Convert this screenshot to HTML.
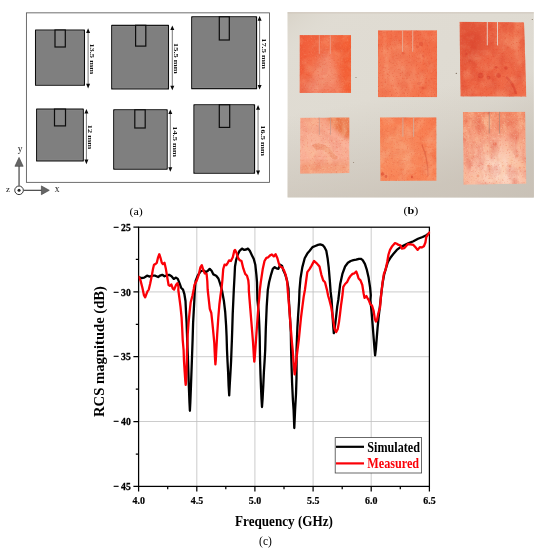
<!DOCTYPE html>
<html><head><meta charset="utf-8"><title>Figure</title>
<style>
html,body{margin:0;padding:0;background:#fff}
svg{display:block}
text{font-family:"Liberation Serif","DejaVu Serif",serif}
</style></head><body>
<svg width="542" height="550" viewBox="0 0 542 550">
<defs>
<linearGradient id="bg" x1="0" y1="0" x2="1" y2="1"><stop offset="0" stop-color="#d5cfc3" stop-opacity="0.7"/><stop offset="0.12" stop-color="#dedad1" stop-opacity="0.1"/><stop offset="0.65" stop-color="#d8d4cb" stop-opacity="0.25"/><stop offset="1" stop-color="#c4beb4" stop-opacity="1"/></linearGradient>
<linearGradient id="bg2" x1="0.1" y1="0" x2="0.35" y2="1"><stop offset="0.5" stop-color="#c9c1b6" stop-opacity="0"/><stop offset="1" stop-color="#cac2b7" stop-opacity="0.8"/></linearGradient>
<filter id="bl1" x="-20%" y="-20%" width="140%" height="140%"><feGaussianBlur stdDeviation="0.7"/></filter>
<filter id="bl2" x="-30%" y="-30%" width="160%" height="160%"><feGaussianBlur stdDeviation="2"/></filter>
<filter id="bl3" x="-30%" y="-30%" width="160%" height="160%"><feGaussianBlur stdDeviation="3.5"/></filter>
<filter color-interpolation-filters="sRGB" id="tx1" x="0" y="0" width="1" height="1"><feTurbulence type="fractalNoise" baseFrequency="0.07 0.09" numOctaves="4" seed="4"/><feColorMatrix type="matrix" values="0 0 0 0 0.86  0 0 0 0 0.28  0 0 0 0 0.18  2.2 0 0 0 -0.95"/></filter>
<filter color-interpolation-filters="sRGB" id="tx2" x="0" y="0" width="1" height="1"><feTurbulence type="fractalNoise" baseFrequency="0.1" numOctaves="5" seed="11"/><feColorMatrix type="matrix" values="0 0 0 0 0.86  0 0 0 0 0.28  0 0 0 0 0.18  2.2 0 0 0 -0.95"/></filter>
<filter color-interpolation-filters="sRGB" id="tx3" x="0" y="0" width="1" height="1"><feTurbulence type="fractalNoise" baseFrequency="0.09 0.06" numOctaves="5" seed="23"/><feColorMatrix type="matrix" values="0 0 0 0 0.84  0 0 0 0 0.22  0 0 0 0 0.15  2.4 0 0 0 -1.0"/></filter>
<filter color-interpolation-filters="sRGB" id="sp1" x="0" y="0" width="1" height="1"><feTurbulence type="fractalNoise" baseFrequency="0.55" numOctaves="2" seed="5"/><feColorMatrix type="matrix" values="0 0 0 0 0.88  0 0 0 0 0.30  0 0 0 0 0.18  5 0 0 0 -3.0"/></filter>
<filter color-interpolation-filters="sRGB" id="sp2" x="0" y="0" width="1" height="1"><feTurbulence type="fractalNoise" baseFrequency="0.7" numOctaves="2" seed="17"/><feColorMatrix type="matrix" values="0 0 0 0 0.99  0 0 0 0 0.86  0 0 0 0 0.76  0 3 0 0 -1.7"/></filter>
<filter color-interpolation-filters="sRGB" id="tl1" x="0" y="0" width="1" height="1"><feTurbulence type="fractalNoise" baseFrequency="0.08" numOctaves="5" seed="7"/><feColorMatrix type="matrix" values="0 0 0 0 0.98  0 0 0 0 0.75  0 0 0 0 0.6  0 2.2 0 0 -0.95"/></filter>
<filter color-interpolation-filters="sRGB" id="tl2" x="0" y="0" width="1" height="1"><feTurbulence type="fractalNoise" baseFrequency="0.12 0.07" numOctaves="5" seed="31"/><feColorMatrix type="matrix" values="0 0 0 0 0.98  0 0 0 0 0.75  0 0 0 0 0.6  0 2.2 0 0 -0.95"/></filter>
<linearGradient id="p1" x1="0" y1="0" x2="1" y2="0"><stop offset="0" stop-color="#f15d3a"/><stop offset="0.5" stop-color="#f46b45"/><stop offset="1" stop-color="#f45f34"/></linearGradient>
<radialGradient id="p1b" cx="0.5" cy="0.6" r="0.4"><stop offset="0" stop-color="#f39672" stop-opacity="0.4"/><stop offset="1" stop-color="#f39672" stop-opacity="0"/></radialGradient>
<linearGradient id="p2" x1="1" y1="0" x2="0" y2="1"><stop offset="0" stop-color="#f26b46"/><stop offset="1" stop-color="#f57850"/></linearGradient>
<radialGradient id="p2b" cx="0.3" cy="0.65" r="0.5"><stop offset="0" stop-color="#f49674" stop-opacity="0.55"/><stop offset="1" stop-color="#f49674" stop-opacity="0"/></radialGradient>
<linearGradient id="p3" x1="0" y1="0" x2="1" y2="1"><stop offset="0" stop-color="#ea5d3e"/><stop offset="1" stop-color="#f06d4a"/></linearGradient>
<radialGradient id="p3b" cx="0.8" cy="0.25" r="0.45"><stop offset="0" stop-color="#f0805a" stop-opacity="0.5"/><stop offset="1" stop-color="#f0805a" stop-opacity="0"/></radialGradient>
<linearGradient id="p4" x1="0" y1="0" x2="0" y2="1"><stop offset="0" stop-color="#f8a488"/><stop offset="0.5" stop-color="#fab19a"/><stop offset="1" stop-color="#f9ac90"/></linearGradient>
<radialGradient id="p4b" cx="0.3" cy="0.35" r="0.4"><stop offset="0" stop-color="#f8b89a" stop-opacity="0.5"/><stop offset="1" stop-color="#f8b89a" stop-opacity="0"/></radialGradient>
<linearGradient id="p5" x1="1" y1="0" x2="0" y2="1"><stop offset="0" stop-color="#f87c50"/><stop offset="1" stop-color="#f9885a"/></linearGradient>
<radialGradient id="p5b" cx="0.35" cy="0.5" r="0.45"><stop offset="0" stop-color="#f6a47a" stop-opacity="0.55"/><stop offset="1" stop-color="#f6a47a" stop-opacity="0"/></radialGradient>
<linearGradient id="p6" x1="0" y1="0" x2="0" y2="1"><stop offset="0" stop-color="#f48c68"/><stop offset="0.4" stop-color="#f7a486"/><stop offset="1" stop-color="#f9b89e"/></linearGradient>
<radialGradient id="p6b" cx="0.58" cy="0.8" r="0.55"><stop offset="0" stop-color="#fde4d4" stop-opacity="0.95"/><stop offset="1" stop-color="#fcdcc8" stop-opacity="0"/></radialGradient>
</defs>
<rect width="542" height="550" fill="#fff"/>
<g id="panel-a">
<rect x="26.4" y="12.85" width="243.15" height="169.5" fill="#fff" stroke="#555" stroke-width="0.85"/>
<rect x="35.6" y="30.0" width="48.8" height="55.2" fill="#7f7f7f" stroke="#0c0c0c" stroke-width="1.25" stroke-linejoin="round"/>
<rect x="36.5" y="30.9" width="47.0" height="53.4" fill="none" stroke="#8e8e8e" stroke-width="0.6"/>
<rect x="55.0" y="30.0" width="10.3" height="17.0" fill="#868686" stroke="#0c0c0c" stroke-width="1.2"/>
<line x1="88.1" y1="31.3" x2="88.1" y2="85.4" stroke="#555" stroke-width="0.8"/>
<path d="M88.1,28.3 l2,4.6 h-4z M88.1,88.4 l2,-4.6 h-4z" fill="#0a0a0a"/>
<text transform="translate(90.1,58.75) scale(0.8,1) rotate(90)" text-anchor="middle" font-size="8.4" font-weight="bold" fill="#111">13.5 mm</text>
<rect x="111.8" y="25.3" width="56.6" height="63.6" fill="#7f7f7f" stroke="#0c0c0c" stroke-width="1.25" stroke-linejoin="round"/>
<rect x="112.7" y="26.2" width="54.8" height="61.8" fill="none" stroke="#8e8e8e" stroke-width="0.6"/>
<rect x="135.6" y="25.3" width="10.2" height="20.8" fill="#868686" stroke="#0c0c0c" stroke-width="1.2"/>
<line x1="172.3" y1="28.4" x2="172.3" y2="87.3" stroke="#555" stroke-width="0.8"/>
<path d="M172.3,25.4 l2,4.6 h-4z M172.3,90.3 l2,-4.6 h-4z" fill="#0a0a0a"/>
<text transform="translate(174.3,58.4) scale(0.8,1) rotate(90)" text-anchor="middle" font-size="8.4" font-weight="bold" fill="#111">15.5 mm</text>
<rect x="191.8" y="16.8" width="64.7" height="71.9" fill="#7f7f7f" stroke="#0c0c0c" stroke-width="1.25" stroke-linejoin="round"/>
<rect x="192.70000000000002" y="17.7" width="62.9" height="70.1" fill="none" stroke="#8e8e8e" stroke-width="0.6"/>
<rect x="219.3" y="16.8" width="10.0" height="23.2" fill="#868686" stroke="#0c0c0c" stroke-width="1.2"/>
<line x1="259.6" y1="19.1" x2="259.6" y2="86.6" stroke="#555" stroke-width="0.8"/>
<path d="M259.6,16.1 l2,4.6 h-4z M259.6,89.6 l2,-4.6 h-4z" fill="#0a0a0a"/>
<text transform="translate(262.1,53.6) scale(0.8,1) rotate(90)" text-anchor="middle" font-size="8.4" font-weight="bold" fill="#111">17.5 mm</text>
<rect x="36.7" y="109.1" width="46.5" height="51.8" fill="#7f7f7f" stroke="#0c0c0c" stroke-width="1.25" stroke-linejoin="round"/>
<rect x="37.6" y="110.0" width="44.7" height="50.0" fill="none" stroke="#8e8e8e" stroke-width="0.6"/>
<rect x="54.5" y="109.1" width="11.0" height="16.8" fill="#868686" stroke="#0c0c0c" stroke-width="1.2"/>
<line x1="86.4" y1="111.9" x2="86.4" y2="161.2" stroke="#555" stroke-width="0.8"/>
<path d="M86.4,108.9 l2,4.6 h-4z M86.4,164.2 l2,-4.6 h-4z" fill="#0a0a0a"/>
<text transform="translate(88.4,137.0) scale(0.8,1) rotate(90)" text-anchor="middle" font-size="8.4" font-weight="bold" fill="#111">12 mm</text>
<rect x="113.8" y="109.8" width="53.3" height="59.3" fill="#7f7f7f" stroke="#0c0c0c" stroke-width="1.25" stroke-linejoin="round"/>
<rect x="114.7" y="110.7" width="51.5" height="57.5" fill="none" stroke="#8e8e8e" stroke-width="0.6"/>
<rect x="134.8" y="109.8" width="10.4" height="18.2" fill="#868686" stroke="#0c0c0c" stroke-width="1.2"/>
<line x1="170.3" y1="112.5" x2="170.3" y2="168.75" stroke="#555" stroke-width="0.8"/>
<path d="M170.3,109.5 l2,4.6 h-4z M170.3,171.75 l2,-4.6 h-4z" fill="#0a0a0a"/>
<text transform="translate(173.0,141.7) scale(0.8,1) rotate(90)" text-anchor="middle" font-size="8.4" font-weight="bold" fill="#111">14.5 mm</text>
<rect x="194.0" y="104.8" width="60.5" height="68.4" fill="#7f7f7f" stroke="#0c0c0c" stroke-width="1.25" stroke-linejoin="round"/>
<rect x="194.9" y="105.7" width="58.7" height="66.6" fill="none" stroke="#8e8e8e" stroke-width="0.6"/>
<rect x="219.3" y="104.8" width="10.4" height="22.6" fill="#868686" stroke="#0c0c0c" stroke-width="1.2"/>
<line x1="258.05" y1="108.1" x2="258.05" y2="172.2" stroke="#555" stroke-width="0.8"/>
<path d="M258.05,105.1 l2,4.6 h-4z M258.05,175.2 l2,-4.6 h-4z" fill="#0a0a0a"/>
<text transform="translate(261.3,140.7) scale(0.8,1) rotate(90)" text-anchor="middle" font-size="8.4" font-weight="bold" fill="#111">16.5 mm</text>
<circle cx="19.05" cy="190.3" r="4.3" fill="#fff" stroke="#222" stroke-width="0.9"/><circle cx="19.05" cy="190.3" r="1.5" fill="#222"/>
<line x1="19.05" y1="185.8" x2="19.05" y2="166" stroke="#333" stroke-width="1.1"/><path d="M19.05,157.4 l4.1,8.9 h-8.2z" fill="#666" stroke="#3a3a3a" stroke-width="0.6" stroke-linejoin="miter"/>
<line x1="23.6" y1="190.3" x2="41.6" y2="190.3" stroke="#333" stroke-width="1.1"/><path d="M49.3,190.3 l-7.9,-4.4 v8.8z" fill="#666" stroke="#3a3a3a" stroke-width="0.6"/>
<text x="20.1" y="151.5" text-anchor="middle" font-size="9.5" fill="#222">y</text>
<text x="57" y="192.4" text-anchor="middle" font-size="9.5" fill="#222">x</text>
<text x="8.1" y="192.4" text-anchor="middle" font-size="9" fill="#222">z</text>
</g>
<g id="panel-b">
<rect x="287.6" y="12.3" width="246.2" height="185.1" fill="#e0dcd3"/>
<rect x="287.6" y="12.3" width="246.2" height="185.1" fill="url(#bg)"/>
<rect x="287.6" y="12.3" width="246.2" height="185.1" fill="url(#bg2)"/>
<rect x="287.6" y="12.3" width="246.2" height="1" fill="#cbbfb4" opacity="0.8"/>
<clipPath id="k0"><path d="M299.5,35.1 L351.1,35.1 L351.1,92.9 L299.5,92.9Z"/></clipPath>
<g clip-path="url(#k0)">
<rect x="299.5" y="35.1" width="51.6" height="57.8" fill="url(#p1)"/>
<rect x="299.5" y="35.1" width="51.6" height="57.8" fill="url(#p1b)"/>
<path d="M322,52 L331,52 L343,94 L306,94 Z" fill="#f5b09c" opacity="0.4" filter="url(#bl3)"/><rect x="299" y="80" width="20" height="14" fill="#f3a890" opacity="0.35" filter="url(#bl3)"/>
<rect x="299.5" y="35.1" width="51.6" height="57.8" filter="url(#tx1)" opacity="0.25"/>
<rect x="299.5" y="35.1" width="51.6" height="57.8" filter="url(#tl1)" opacity="0.3"/>
<rect x="299.5" y="35.1" width="51.6" height="57.8" filter="url(#sp1)" opacity="0.25"/>
<rect x="299.5" y="35.1" width="51.6" height="57.8" filter="url(#sp2)" opacity="0.15"/>
</g>
<path d="M319.3,35.3 V53.8 M330.3,35.3 V53.8" stroke="#eba592" stroke-width="0.8" fill="none"/>
<clipPath id="k1"><path d="M378.0,30.2 L437.1,30.2 L437.1,97.3 L378.0,97.3Z"/></clipPath>
<g clip-path="url(#k1)">
<rect x="378.0" y="30.2" width="59.1" height="67.1" fill="url(#p2)"/>
<rect x="378.0" y="30.2" width="59.1" height="67.1" fill="url(#p2b)"/>
<g fill="#d9442f" filter="url(#bl1)" opacity="0.4"><circle cx="421" cy="44" r="2.2"/><circle cx="417.5" cy="47" r="1.4"/><circle cx="423" cy="56" r="1.2"/><circle cx="419" cy="83.5" r="1.8"/><circle cx="423" cy="88" r="1.6"/><circle cx="403" cy="53" r="1"/></g>
<rect x="378.0" y="30.2" width="59.1" height="67.1" filter="url(#tx2)" opacity="0.2"/>
<rect x="378.0" y="30.2" width="59.1" height="67.1" filter="url(#tl2)" opacity="0.3"/>
<rect x="378.0" y="30.2" width="59.1" height="67.1" filter="url(#sp1)" opacity="0.35"/>
<rect x="378.0" y="30.2" width="59.1" height="67.1" filter="url(#sp2)" opacity="0.1"/>
</g>
<path d="M402.6,30.4 V51.8 M412.7,30.4 V51.8" stroke="#e6b8a4" stroke-width="0.8" fill="none"/>
<clipPath id="k2"><path d="M459.5,21.8 L524.0,22.4 L526.4,96.7 L460.6,96.6Z"/></clipPath>
<g clip-path="url(#k2)">
<rect x="459.5" y="21.8" width="66.9" height="74.9" fill="url(#p3)"/>
<rect x="459.5" y="21.8" width="66.9" height="74.9" fill="url(#p3b)"/>
<g fill="#d53a2a" filter="url(#bl1)" opacity="0.55"><circle cx="480.6" cy="75.5" r="2.8"/><circle cx="488.5" cy="77.7" r="2"/><circle cx="498.5" cy="75.5" r="2.4"/><circle cx="496" cy="67.3" r="1.4"/><circle cx="506" cy="68" r="1.8"/><circle cx="470" cy="60" r="1.6"/><circle cx="466" cy="54" r="1.2"/><path d="M506,77 Q513,82 516,94" stroke="#d53a2a" stroke-width="2.2" fill="none"/></g><path d="M458,20 L484,20 L488,50 L470,66 L458,60 Z" fill="#d84a30" opacity="0.45" filter="url(#bl3)"/>
<rect x="459.5" y="21.8" width="66.9" height="74.9" filter="url(#tx3)" opacity="0.35"/>
<rect x="459.5" y="21.8" width="66.9" height="74.9" filter="url(#tl1)" opacity="0.3"/>
<rect x="459.5" y="21.8" width="66.9" height="74.9" filter="url(#sp1)" opacity="0.4"/>
<rect x="459.5" y="21.8" width="66.9" height="74.9" filter="url(#sp2)" opacity="0.1"/>
</g>
<path d="M487.3,22.0 V45.4 M497.5,22.0 V45.4" stroke="#e8cabd" stroke-width="1.0" fill="none"/>
<clipPath id="k3"><path d="M300.2,117.75 L349.3,117.5 L349.5,173.1 L300.1,173.7Z"/></clipPath>
<g clip-path="url(#k3)">
<rect x="300.1" y="117.5" width="49.4" height="56.2" fill="url(#p4)"/>
<rect x="300.1" y="117.5" width="49.4" height="56.2" fill="url(#p4b)"/>
<path d="M326,116 L351,116 L351,140 Q336,134 326,116Z" fill="#e8703f" opacity="0.9" filter="url(#bl2)"/><path d="M312,145 Q320,141 328,147 Q333,153 338,158 Q334,162 330,156 Q324,148 316,150 Z" fill="#ee8f6c" opacity="0.7" filter="url(#bl1)"/><rect x="300" y="163" width="49" height="11" fill="#ef8e5e" opacity="0.5" filter="url(#bl3)"/>
<rect x="300.1" y="117.5" width="49.4" height="56.2" filter="url(#tx1)" opacity="0.2"/>
<rect x="300.1" y="117.5" width="49.4" height="56.2" filter="url(#tl2)" opacity="0.6"/>
<rect x="300.1" y="117.5" width="49.4" height="56.2" filter="url(#sp1)" opacity="0.2"/>
<rect x="300.1" y="117.5" width="49.4" height="56.2" filter="url(#sp2)" opacity="0.3"/>
</g>
<path d="M319.4,117.7 V134.8 M330.5,117.7 V134.8" stroke="#c9988a" stroke-width="0.8" fill="none"/>
<clipPath id="k4"><path d="M380.0,117.3 L436.5,117.3 L436.6,180.7 L380.4,180.9Z"/></clipPath>
<g clip-path="url(#k4)">
<rect x="380.0" y="117.3" width="56.6" height="63.6" fill="url(#p5)"/>
<rect x="380.0" y="117.3" width="56.6" height="63.6" fill="url(#p5b)"/>
<g fill="#d8452e" filter="url(#bl1)" opacity="0.6"><circle cx="382.5" cy="174" r="1.8"/><circle cx="386" cy="176.5" r="1.4"/><circle cx="412" cy="177" r="1.2"/><path d="M422,145 Q428,158 428,176" stroke="#d8553a" stroke-width="1.3" fill="none"/></g>
<rect x="380.0" y="117.3" width="56.6" height="63.6" filter="url(#tx2)" opacity="0.2"/>
<rect x="380.0" y="117.3" width="56.6" height="63.6" filter="url(#tl1)" opacity="0.45"/>
<rect x="380.0" y="117.3" width="56.6" height="63.6" filter="url(#sp1)" opacity="0.25"/>
<rect x="380.0" y="117.3" width="56.6" height="63.6" filter="url(#sp2)" opacity="0.15"/>
</g>
<path d="M402.9,117.5 V136.8 M413.6,117.5 V136.8" stroke="#d3ab9b" stroke-width="0.9" fill="none"/>
<clipPath id="k5"><path d="M462.9,112.0 L525.1,111.7 L526.3,183.5 L463.7,184.8Z"/></clipPath>
<g clip-path="url(#k5)">
<rect x="462.9" y="111.7" width="63.4" height="73.1" fill="url(#p6)"/>
<rect x="462.9" y="111.7" width="63.4" height="73.1" fill="url(#p6b)"/>
<g fill="#ea6a48" filter="url(#bl1)" opacity="0.45"><circle cx="495" cy="144" r="1.8"/><circle cx="466" cy="121" r="1.5"/><circle cx="521" cy="120" r="2.2"/><circle cx="517" cy="156" r="1.6"/><circle cx="510" cy="166" r="1.5"/><circle cx="489" cy="166" r="1.6"/><circle cx="520" cy="168" r="1.4"/><circle cx="478" cy="176" r="1.4"/></g>
<rect x="462.9" y="111.7" width="63.4" height="73.1" filter="url(#tx3)" opacity="0.38"/>
<rect x="462.9" y="111.7" width="63.4" height="73.1" filter="url(#tl2)" opacity="0.7"/>
<rect x="462.9" y="111.7" width="63.4" height="73.1" filter="url(#sp1)" opacity="0.22"/>
<rect x="462.9" y="111.7" width="63.4" height="73.1" filter="url(#sp2)" opacity="0.4"/>
</g>
<path d="M489.3,111.9 V133.5 M499.5,111.9 V133.5" stroke="#b08878" stroke-width="0.75" fill="none"/>
<circle cx="356" cy="77.5" r="0.55" fill="#8a7a6a"/><circle cx="456.3" cy="73.4" r="0.6" fill="#7a6a5a"/><circle cx="353.6" cy="162.5" r="0.5" fill="#8a7a6a"/><circle cx="532.3" cy="19.5" r="0.6" fill="#8a7a6a"/>
</g>
<text x="129.5" y="214.5" textLength="13.3" lengthAdjust="spacingAndGlyphs" font-size="11.3">(a)</text>
<text x="403.4" y="214.3" textLength="14.8" lengthAdjust="spacingAndGlyphs" font-size="11.3">(<tspan font-weight="bold">b</tspan>)</text>
<g id="chart">
<line x1="196.8" y1="227" x2="196.8" y2="486.4" stroke="#bfbfbf" stroke-width="0.8"/>
<line x1="254.9" y1="227" x2="254.9" y2="486.4" stroke="#bfbfbf" stroke-width="0.8"/>
<line x1="313.1" y1="227" x2="313.1" y2="486.4" stroke="#bfbfbf" stroke-width="0.8"/>
<line x1="371.2" y1="227" x2="371.2" y2="486.4" stroke="#bfbfbf" stroke-width="0.8"/>
<line x1="138.6" y1="291.9" x2="429.4" y2="291.9" stroke="#bfbfbf" stroke-width="0.8"/>
<line x1="138.6" y1="356.7" x2="429.4" y2="356.7" stroke="#bfbfbf" stroke-width="0.8"/>
<line x1="138.6" y1="421.5" x2="429.4" y2="421.5" stroke="#bfbfbf" stroke-width="0.8"/>
<rect x="138.6" y="227.2" width="290.8" height="259.2" fill="none" stroke="#000" stroke-width="1.25"/>
<clipPath id="cc"><rect x="138.6" y="226" width="291.49999999999994" height="260.4"/></clipPath>
<g clip-path="url(#cc)" fill="none" stroke-linejoin="round" stroke-linecap="round" stroke-width="2.3"><path d="M138.7,277.0 L141.5,278.1 L144.2,277.6 L147.0,275.7 L149.8,276.7 L152.5,275.7 L155.3,275.7 L158.1,277.0 L159.9,275.7 L162.3,274.8 L164.5,276.3 L167.3,275.2 L169.1,274.8 L171.5,276.3 L173.8,278.9 L176.0,277.6 L177.8,278.9 L179.7,283.7 L181.1,287.7 L183.0,289.6 L184.4,294.2 L185.5,301.0 L186.0,312.0 L186.6,323.0 L187.2,340.0 L188.0,360.0 L188.8,385.0 L189.5,403.0 L189.9,410.8 L190.3,403.0 L191.0,385.0 L191.9,360.0 L192.6,340.0 L193.1,323.0 L193.7,312.0 L194.3,301.0 L194.8,290.0 L195.6,281.0 L197.7,275.7 L200.5,271.5 L203.3,270.2 L206.0,272.1 L207.9,270.8 L209.7,268.9 L211.6,270.8 L213.4,274.4 L216.2,275.7 L218.4,278.5 L220.2,284.0 L221.9,290.0 L223.9,301.0 L225.2,312.0 L226.1,325.4 L226.6,336.5 L227.0,350.0 L227.5,361.0 L228.1,372.0 L228.6,385.4 L229.2,395.4 L229.7,385.4 L230.5,372.0 L231.1,361.0 L231.5,350.0 L231.9,339.8 L232.3,327.6 L232.7,314.4 L233.3,301.0 L233.8,290.0 L234.6,275.0 L235.0,266.5 L236.1,260.1 L237.8,254.5 L239.6,250.8 L242.0,248.6 L244.2,249.9 L246.1,249.5 L247.9,248.6 L249.8,250.8 L252.0,255.4 L253.8,259.1 L255.3,264.7 L256.4,274.8 L257.0,282.2 L257.4,300.0 L258.7,312.0 L259.3,325.4 L259.7,336.5 L259.9,350.0 L260.1,361.0 L260.5,374.4 L261.0,387.6 L261.5,398.7 L262.0,407.0 L262.6,398.7 L263.3,385.4 L263.9,372.0 L264.6,361.0 L265.2,350.0 L265.5,339.8 L265.8,328.7 L266.7,306.6 L267.8,290.0 L269.1,282.2 L271.0,274.8 L272.8,268.9 L274.7,267.1 L276.5,268.4 L278.4,268.9 L280.2,264.7 L282.1,266.0 L283.3,270.2 L285.2,274.4 L287.0,280.4 L288.5,288.6 L288.8,298.9 L289.5,309.9 L290.2,321.0 L290.8,332.0 L291.1,350.0 L291.4,361.0 L292.1,383.0 L292.9,400.0 L293.6,410.0 L294.3,428.0 L295.1,410.0 L296.0,394.0 L296.5,378.0 L296.6,361.0 L296.5,350.0 L296.9,339.8 L297.4,327.6 L298.2,314.4 L299.1,301.0 L299.5,290.0 L300.5,278.5 L302.3,267.4 L304.7,258.2 L307.3,253.6 L309.7,250.8 L312.5,247.1 L315.3,246.0 L318.0,244.9 L320.2,244.4 L322.6,245.1 L324.5,247.3 L326.3,250.8 L327.6,258.2 L328.7,267.4 L329.8,280.4 L330.6,291.4 L331.6,300.0 L332.4,313.3 L333.1,324.4 L333.8,333.2 L334.9,326.6 L336.1,316.6 L337.2,306.6 L338.3,300.0 L340.2,284.0 L342.4,273.9 L345.1,266.5 L347.9,262.8 L350.7,261.0 L353.4,260.1 L356.2,259.7 L359.0,258.8 L360.8,258.8 L362.7,260.1 L364.9,263.8 L366.7,269.3 L368.6,277.6 L370.1,287.7 L370.8,295.1 L370.4,300.0 L371.5,311.1 L372.6,324.4 L373.7,338.7 L374.5,348.7 L375.1,355.4 L375.9,348.7 L376.7,338.7 L377.6,327.7 L378.7,316.6 L380.0,305.5 L381.1,295.1 L382.6,283.1 L384.1,274.8 L385.9,268.4 L387.6,262.8 L388.5,261.0 L390.4,257.8 L393.1,254.2 L396.8,249.9 L400.5,247.1 L405.1,244.9 L408.8,243.1 L413.4,241.2 L418.0,238.8 L422.6,237.0 L426.3,235.2 L429.1,233.3" stroke="#000"/><path d="M138.7,276.7 L140.5,280.4 L142.4,287.7 L143.9,295.1 L145.2,297.3 L146.4,294.2 L147.6,291.1 L148.8,289.6 L150.1,284.0 L151.6,276.7 L153.1,268.4 L154.0,264.7 L155.3,264.1 L156.8,262.8 L158.1,257.3 L159.3,254.2 L160.5,257.8 L161.8,262.8 L163.0,264.1 L164.5,262.8 L165.8,268.4 L167.3,277.6 L168.6,285.0 L170.1,285.9 L171.3,284.4 L172.8,288.6 L174.1,289.6 L176.0,285.0 L177.4,283.1 L178.5,286.8 L178.3,290.0 L179.2,296.6 L180.5,306.6 L181.6,317.7 L182.2,328.7 L182.7,339.8 L183.6,350.0 L184.0,361.0 L184.7,372.0 L185.3,381.0 L185.7,384.9 L186.1,381.0 L186.5,372.0 L186.8,361.0 L187.0,350.0 L187.3,345.4 L187.7,334.3 L188.5,323.2 L189.6,312.1 L190.7,302.2 L192.5,295.5 L193.8,289.0 L194.4,285.0 L196.8,280.4 L198.7,274.8 L200.5,267.1 L201.8,265.2 L203.3,270.2 L204.7,273.3 L206.6,273.9 L207.3,281.0 L207.7,290.0 L208.7,298.9 L209.8,308.8 L211.3,313.0 L212.4,323.2 L213.5,334.3 L214.3,343.1 L214.7,352.0 L215.1,360.0 L215.4,364.4 L215.8,360.0 L216.2,352.0 L216.6,345.0 L217.2,334.3 L218.3,317.7 L219.4,304.4 L220.5,295.5 L221.6,288.0 L222.4,280.0 L223.2,269.3 L224.5,264.7 L226.3,265.2 L227.8,262.8 L229.1,260.4 L230.9,261.0 L232.8,257.3 L234.3,250.8 L235.0,249.9 L236.5,252.7 L237.8,257.3 L239.6,260.1 L241.5,261.0 L243.3,268.4 L245.2,273.9 L247.0,275.7 L248.3,280.4 L248.8,285.9 L248.8,290.0 L249.5,298.9 L250.4,309.9 L251.3,321.0 L252.2,332.0 L253.0,342.0 L253.5,350.0 L253.9,357.0 L254.3,361.6 L254.8,357.0 L255.3,350.0 L256.0,339.8 L256.8,328.7 L257.6,317.7 L258.4,306.6 L259.3,296.6 L259.8,290.0 L260.8,282.2 L262.7,269.3 L264.5,261.0 L266.4,257.8 L268.2,257.3 L270.1,255.4 L271.9,254.5 L273.8,256.4 L275.6,254.2 L277.4,258.2 L278.9,263.8 L280.2,266.5 L282.1,267.4 L283.9,270.2 L285.7,274.8 L287.2,282.2 L287.7,290.0 L288.5,298.9 L289.4,309.9 L290.2,321.0 L291.1,332.0 L291.9,342.0 L292.7,350.0 L293.5,361.0 L294.2,370.0 L294.7,374.4 L295.3,370.0 L296.2,361.0 L297.5,350.0 L298.8,339.8 L299.9,328.7 L301.0,317.7 L302.4,306.6 L303.7,296.6 L304.9,290.0 L307.3,272.1 L309.7,268.9 L311.6,265.6 L314.0,261.0 L316.2,262.8 L318.0,264.7 L319.5,266.5 L321.4,274.8 L323.2,280.4 L325.0,282.2 L326.9,289.6 L328.2,296.0 L329.4,300.0 L331.1,306.6 L332.4,314.4 L333.5,322.1 L334.6,328.8 L336.1,332.1 L337.7,329.3 L339.0,322.1 L340.1,313.3 L341.0,305.5 L341.8,300.0 L342.6,294.0 L343.3,286.8 L345.1,284.0 L347.0,282.2 L348.8,278.5 L350.7,275.7 L352.5,273.9 L354.4,273.3 L356.2,271.5 L357.5,274.8 L358.6,278.5 L360.5,280.4 L362.3,285.0 L363.6,293.3 L364.5,297.9 L366.4,296.0 L367.8,298.8 L368.7,300.0 L370.4,304.4 L372.0,305.5 L373.7,311.1 L374.8,318.8 L375.9,321.6 L377.0,319.9 L378.1,314.4 L379.2,310.0 L380.0,307.7 L381.1,295.1 L382.6,282.2 L383.9,273.9 L385.7,269.3 L387.2,261.9 L388.5,254.5 L390.0,249.9 L392.2,246.2 L395.0,243.1 L396.8,243.8 L398.6,244.9 L400.5,245.3 L401.8,248.6 L404.2,248.1 L406.0,246.2 L407.9,244.0 L410.6,244.4 L413.4,244.9 L415.3,247.1 L417.7,249.9 L419.9,247.1 L421.7,247.5 L423.9,246.2 L425.4,242.5 L426.3,237.0 L428.2,234.2 L429.5,232.4" stroke="#fb0007"/></g>
<path d="M138.6,486.4 v5 M167.7,486.4 v2.8 M196.8,486.4 v5 M225.8,486.4 v2.8 M254.9,486.4 v5 M284.0,486.4 v2.8 M313.1,486.4 v5 M342.2,486.4 v2.8 M371.2,486.4 v5 M400.3,486.4 v2.8 M429.4,486.4 v5 M138.6,227.0 h-5.2 M138.6,259.4 h-2.8 M138.6,291.9 h-5.2 M138.6,324.3 h-2.8 M138.6,356.7 h-5.2 M138.6,389.1 h-2.8 M138.6,421.5 h-5.2 M138.6,454.0 h-2.8 M138.6,486.4 h-5.2" stroke="#000" stroke-width="1.25" fill="none"/>
<text x="132.5" y="504.2" textLength="12.4" lengthAdjust="spacingAndGlyphs" font-size="11.2" font-weight="bold" stroke="#000" stroke-width="0.2">4.0</text>
<text x="190.7" y="504.2" textLength="12.4" lengthAdjust="spacingAndGlyphs" font-size="11.2" font-weight="bold" stroke="#000" stroke-width="0.2">4.5</text>
<text x="248.8" y="504.2" textLength="12.4" lengthAdjust="spacingAndGlyphs" font-size="11.2" font-weight="bold" stroke="#000" stroke-width="0.2">5.0</text>
<text x="307.0" y="504.2" textLength="12.4" lengthAdjust="spacingAndGlyphs" font-size="11.2" font-weight="bold" stroke="#000" stroke-width="0.2">5.5</text>
<text x="365.1" y="504.2" textLength="12.4" lengthAdjust="spacingAndGlyphs" font-size="11.2" font-weight="bold" stroke="#000" stroke-width="0.2">6.0</text>
<text x="423.3" y="504.2" textLength="12.4" lengthAdjust="spacingAndGlyphs" font-size="11.2" font-weight="bold" stroke="#000" stroke-width="0.2">6.5</text>
<text x="113.2" y="230.6" textLength="17.6" lengthAdjust="spacingAndGlyphs" font-size="11.2" font-weight="bold" stroke="#000" stroke-width="0.3">− 25</text>
<text x="113.2" y="295.5" textLength="17.6" lengthAdjust="spacingAndGlyphs" font-size="11.2" font-weight="bold" stroke="#000" stroke-width="0.3">− 30</text>
<text x="113.2" y="360.3" textLength="17.6" lengthAdjust="spacingAndGlyphs" font-size="11.2" font-weight="bold" stroke="#000" stroke-width="0.3">− 35</text>
<text x="113.2" y="425.1" textLength="17.6" lengthAdjust="spacingAndGlyphs" font-size="11.2" font-weight="bold" stroke="#000" stroke-width="0.3">− 40</text>
<text x="113.2" y="490.0" textLength="17.6" lengthAdjust="spacingAndGlyphs" font-size="11.2" font-weight="bold" stroke="#000" stroke-width="0.3">− 45</text>
<text x="235.1" y="525.9" textLength="97.8" lengthAdjust="spacingAndGlyphs" font-size="14.3" font-weight="bold">Frequency (GHz)</text>
<text transform="translate(104.4,417) rotate(-90)" textLength="131" lengthAdjust="spacingAndGlyphs" font-size="14.3" font-weight="bold">RCS magnitude (dB)</text>
<rect x="335.2" y="437.6" width="86.4" height="35.4" fill="#fff" stroke="#444" stroke-width="0.8"/>
<line x1="336" y1="446.8" x2="364" y2="446.8" stroke="#000" stroke-width="2.2"/>
<line x1="336" y1="463.4" x2="364" y2="463.4" stroke="#fb0007" stroke-width="2.2"/>
<text x="367.3" y="451.5" textLength="52.6" lengthAdjust="spacingAndGlyphs" font-size="14" font-weight="bold">Simulated</text>
<text x="367.3" y="467.8" textLength="51.8" lengthAdjust="spacingAndGlyphs" font-size="14" font-weight="bold" fill="#fb0007">Measured</text>
</g>
<text x="265.5" y="544.5" text-anchor="middle" font-size="11.5">(c)</text>
</svg>
</body></html>
